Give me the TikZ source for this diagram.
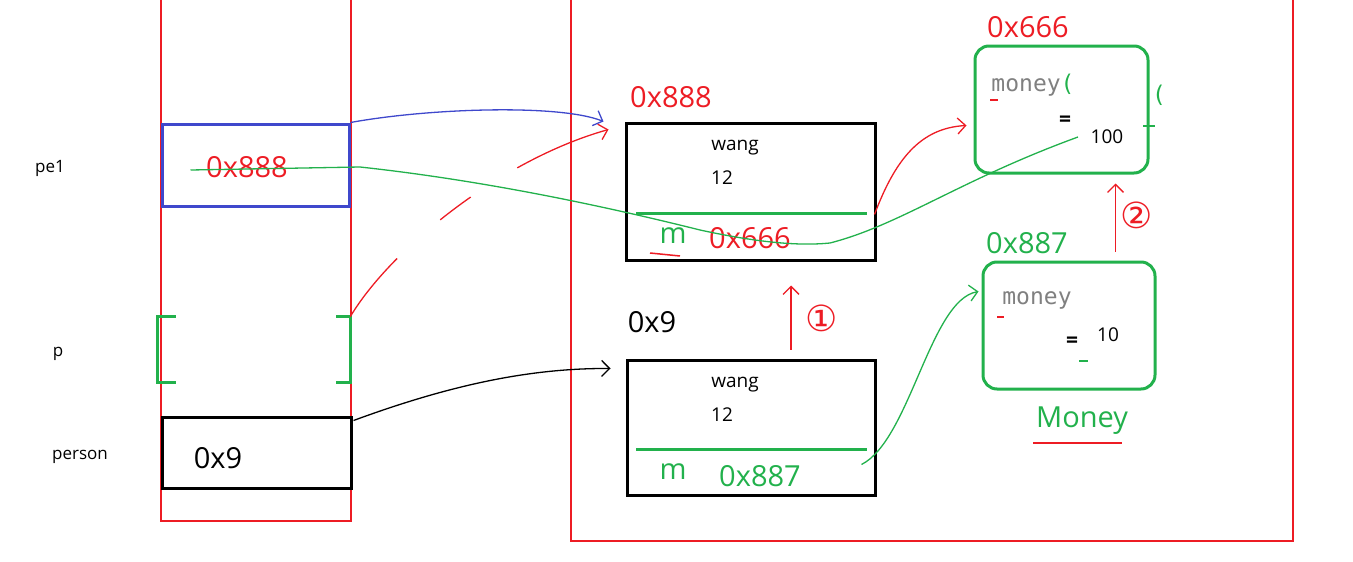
\documentclass[tikz,border=0pt]{standalone}
\usepackage{fontspec}
\setmainfont{Open Sans}
\newfontfamily\codefont{DejaVu Sans Mono}
\newfontfamily\symfont{DejaVu Sans}
\usetikzlibrary{arrows.meta,calc}
\definecolor{memred}{HTML}{ED1C24}
\definecolor{memgreen}{HTML}{22B14C}
\definecolor{memblue}{HTML}{3F48CC}
\definecolor{codegray}{HTML}{808080}

\begin{document}
\begin{tikzpicture}[x=1pt,y=-1pt,
  box/.style={draw,line width=3pt,inner sep=0pt},
  moneybox/.style={box,draw=memgreen,rounded corners=14pt},
  big/.style={font=\fontsize{29}{34}\selectfont},
  mid/.style={font=\fontsize{19}{22}\selectfont},
  lbl/.style={font=\fontsize{17}{20}\selectfont},
  code/.style={font=\codefont\fontsize{23}{26}\selectfont,text=codegray},
  link/.style={line width=1.3pt,-{Straight Barb[length=8pt,width=16pt]}}]
  \useasboundingbox (0,0) rectangle (1353,562);
  % stack and heap frames
  \draw[memred,line width=2.5pt] (161,0) -- (161,521) -- (351,521) -- (351,0);
  \draw[memred,line width=2.5pt] (571,0) -- (571,541) -- (1293,541) -- (1293,0);
  % stack slots
  \node[box,draw=memblue,minimum width=187pt,minimum height=82pt] (pe1box) at (255.5,165) {};
  \node[minimum width=192pt,minimum height=65pt,inner sep=0pt] (pbox) at (254,349.5) {};
  \node[box,minimum width=189pt,minimum height=71pt] (personbox) at (256.5,452.5) {};
  \draw[memgreen,line width=3pt] ($(pbox.north west)+(18,0)$) -- (pbox.north west) -- (pbox.south west) -- ++(18,0);
  \draw[memgreen,line width=3pt] ($(pbox.north east)+(-14,0)$) -- (pbox.north east) -- (pbox.south east) -- ++(-14,0);
  \node[lbl] (lblpe1) at (50,168) {pe1};
  \node[lbl] (lblp) at (58,354) {p};
  \node[lbl] (lblperson) at (80,457) {person};
  \node[big,text=memred] (valpe1) at (247,167) {0x888};
  \node[big] (valperson) at (218,458) {0x9};
  % person objects
  \node[box,minimum width=249pt,minimum height=137pt] (objA) at (750.5,191.5) {};
  \node[box,minimum width=248pt,minimum height=135pt] (objB) at (751,427.5) {};
  \node[big,text=memred] (adrA) at (671,97) {0x888};
  \node[big] (adrB) at (652,322) {0x9};
  \node[mid] (nameA) at (735,148) {wang};
  \node[mid] (ageA) at (722,178) {12};
  \node[mid] (nameB) at (735,385) {wang};
  \node[mid] (ageB) at (722,415) {12};
  \draw[memgreen,line width=3pt] (636,213) -- (867,213);
  \draw[memgreen,line width=3pt] (636,449) -- (867,449);
  \node[big,text=memgreen] (fieldA) at (673,236) {m};
  \node[big,text=memred] (refA) at (750,238) {0x666};
  \node[big,text=memgreen] (fieldB) at (673,472) {m};
  \node[big,text=memgreen] (refB) at (760,476) {0x887};
  \draw[memred,line width=1.5pt] (650,253) -- (680,256);
  % money objects
  \node[moneybox,minimum width=173pt,minimum height=127pt] (monA) at (1061.5,109.5) {};
  \node[moneybox,minimum width=172pt,minimum height=127pt] (monB) at (1069,325.5) {};
  \node[big,text=memred] (adrC) at (1028,27) {0x666};
  \node[big,text=memgreen] (adrD) at (1027,243) {0x887};
  \node[code] (keyA) at (1033,85) {money\textcolor{memgreen}{(}};
  \node[code] (keyB) at (1037,300) {money};
  \node[mid,font=\bfseries\fontsize{21}{22}\selectfont] (eqA) at (1065,121) {=};
  \node[mid,font=\bfseries\fontsize{21}{22}\selectfont] (eqB) at (1072,342) {=};
  \node[mid] (valA) at (1107,137) {100};
  \node[mid] (valB) at (1108,335) {10};
  \node[code,text=memgreen] (markA) at (1159,95) {(};
  \draw[memred,line width=1.5pt] (990,100) -- (998,100);
  \draw[memred,line width=1.5pt] (997,317) -- (1004,317);
  \draw[memgreen,line width=1.5pt] (1143,126) -- (1155,126);
  \draw[memgreen,line width=1.5pt] (1079,361) -- (1088,361);
  \node[big,text=memgreen] (cls) at (1082,421) {Money};
  \draw[memred,line width=2.5pt] (1033,443) -- (1122,443);
  % references
  \draw[link,memblue] (pe1box.north east) .. controls (430,108) and (560,104) .. ($(objA.north west)+(-21,0)$);
  \draw[link,memred,dash pattern=on 75pt off 58pt on 38pt off 55pt on 120pt]
    (pbox.north east) .. controls (390,250) and (500,160) .. ($(objA.north west)+(-16,8)$);
  \draw[memgreen,line width=1.3pt] ($(pe1box.center)+(-65,5)$) -- (360,167)
    .. controls (480,180) and (600,205) .. (700,230)
    .. controls (760,243) and (800,246) .. (830,243)
    .. controls (900,225) and (960,180) .. (1078,137);
  \draw[link] ($(personbox.north east)+(1,5)$) .. controls (450,385) and (530,368) .. ($(objB.north west)+(-15,10)$);
  \draw[link,memgreen] ($(objB.east)+(-15,37)$) .. controls (910,440) and (930,300) .. ($(monB.west)+(-3,-34)$);
  \draw[link,memred] ($(objA.east)+(-2,23)$) .. controls (895,160) and (920,128) .. ($(monA.west)+(-7,16)$);
  % order of assignment
  \draw[link,memred] ($(objB.north)+(40,-9)$) -- ($(objB.north)+(40,-73)$);
  \draw[link,memred] ($(monA.south)+(54,77)$) -- ($(monA.south)+(54,9)$);
  \node[text=memred,font=\symfont\fontsize{36}{38}\selectfont] (stepA) at (822,318) {①};
  \node[text=memred,font=\symfont\fontsize{36}{38}\selectfont] (stepB) at (1137,215) {②};
\end{tikzpicture}
\end{document}
